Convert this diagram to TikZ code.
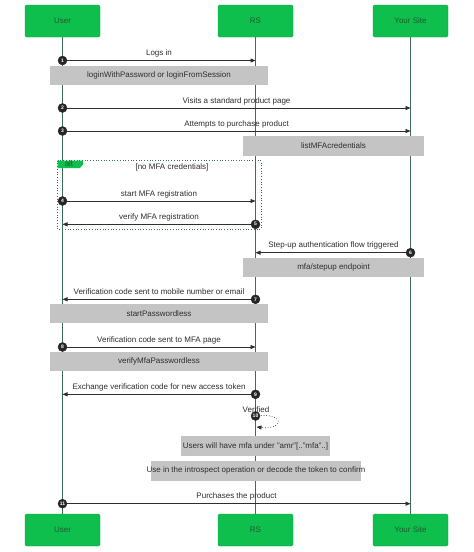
\documentclass[tikz,border=0pt]{standalone}
\usepackage{fontspec}
\setmainfont{Liberation Sans}
\usetikzlibrary{arrows.meta}
\definecolor{actorfill}{HTML}{0EBF4E}
\definecolor{actordraw}{HTML}{0BA343}
\definecolor{actortext}{HTML}{1E5C2E}
\definecolor{lifeline}{HTML}{3C6E57}
\definecolor{notegrey}{HTML}{C4C4C4}
\definecolor{txt}{HTML}{2E2E2E}
\tikzset{
  actor/.style={draw=actordraw, fill=actorfill, rounded corners=1.5pt, minimum width=75pt, minimum height=32pt, inner sep=0pt, text=actortext, font=\fontsize{8}{9}\selectfont},
  life/.style={draw=lifeline, line width=0.9pt},
  notebox/.style={fill=notegrey, inner sep=0pt, text=txt, font=\fontsize{8}{9}\selectfont},
  notetext/.style={inner sep=0pt, text=txt, font=\fontsize{8}{9}\selectfont},
  msg/.style={draw=txt, line width=0.7pt, -{Triangle[length=5pt,width=4pt]}},
  lbl/.style={inner sep=0pt, anchor=base, text=txt, font=\fontsize{8}{9}\selectfont},
  num/.style={circle, fill=black!85, draw=black!85, minimum size=9pt, inner sep=0pt, text=white, font=\fontsize{5}{5}\selectfont\bfseries},
  altbox/.style={draw=lifeline, dotted, line width=0.7pt},
}
\begin{document}
\begin{tikzpicture}[x=1pt,y=-1pt]
\useasboundingbox[fill=white] (0,0) rectangle (474,552);
% actors
\node[actor] (uTop) at (62.5,21) {User};
\node[actor] (rTop) at (255.5,21) {RS};
\node[actor] (sTop) at (410.5,21) {Your Site};
\node[actor] (uBot) at (62.5,530) {User};
\node[actor] (rBot) at (255.5,530) {RS};
\node[actor] (sBot) at (410.5,530) {Your Site};
% lifelines
\draw[life] (uTop.south) -- (uBot.north);
\draw[life] (rTop.south) -- (rBot.north);
\draw[life] (sTop.south) -- (sBot.north);
% alt frame
\draw[altbox] (57.5,160.7) rectangle (261,229);
\fill[actorfill] (57.5,160.7) -- (83,160.7) -- (83,164.5) -- (80,168) -- (57.5,168) -- cycle;
\node[lbl, text=actortext] (altlbl) at (69,166.5) {alt};
\node[lbl] (altcond) at (172,169.5) {[no MFA credentials]};
% notes
\node[notebox, minimum width=218pt, minimum height=19pt] (n1) at (159,75.5) {loginWithPassword or loginFromSession};
\node[notebox, minimum width=181pt, minimum height=19.7pt] (n2) at (333.5,145.8) {listMFAcredentials};
\node[notebox, minimum width=181pt, minimum height=19pt] (n3) at (333.5,267.5) {mfa/stepup endpoint};
\node[notebox, minimum width=218pt, minimum height=19pt] (n4) at (159,313.5) {startPasswordless};
\node[notebox, minimum width=218pt, minimum height=19pt] (n5) at (159,361.5) {verifyMfaPasswordless};
\node[notebox, minimum width=149pt, minimum height=20pt] (n6) at (255.5,446) {};
\node[notetext] (n6t) at (n6) {Users will have mfa under "amr"[.."mfa"..]};
\node[notebox, minimum width=210pt, minimum height=20pt] (n7) at (256,470.7) {};
\node[notetext] (n7t) at (n7) {Use in the introspect operation or decode the token to confirm};
% message end points
\coordinate (u1) at (62.5,60.5);  \coordinate (r1) at (255.5,60.5);
\coordinate (u2) at (62.5,108);   \coordinate (s2) at (410.5,108);
\coordinate (u3) at (62.5,131);   \coordinate (s3) at (410.5,131);
\coordinate (u4) at (62.5,201);   \coordinate (r4) at (255.5,201);
\coordinate (r5) at (255.5,224.3);\coordinate (u5) at (62.5,224.3);
\coordinate (s6) at (410.5,252.7);\coordinate (r6) at (255.5,252.7);
\coordinate (r7) at (255.5,299.3);\coordinate (u7) at (62.5,299.3);
\coordinate (u8) at (62.5,347);   \coordinate (r8) at (255.5,347);
\coordinate (r9) at (255.5,394.3);\coordinate (u9) at (62.5,394.3);
\coordinate (r10) at (255.5,416); \coordinate (r10b) at (256.5,427);
\coordinate (u11) at (62.5,503.7);\coordinate (s11) at (410.5,503.7);
% messages
\draw[msg] (u1) -- (r1);
\node[lbl] (l1) at (159,55.5) {Logs in};
\draw[msg] (u2) -- (s2);
\node[lbl] (l2) at (236.5,103) {Visits a standard product page};
\draw[msg] (u3) -- (s3);
\node[lbl] (l3) at (236.5,126) {Attempts to purchase product};
\draw[msg] (u4) -- (r4);
\node[lbl] (l4) at (159,196) {start MFA registration};
\draw[msg] (r5) -- (u5);
\node[lbl] (l5) at (159,219.3) {verify MFA registration};
\draw[msg] (s6) -- (r6);
\node[lbl] (l6) at (333.5,247.7) {Step-up authentication flow triggered};
\draw[msg] (r7) -- (u7);
\node[lbl] (l7) at (159,294.3) {Verification code sent to mobile number or email};
\draw[msg] (u8) -- (r8);
\node[lbl] (l8) at (159,342) {Verification code sent to MFA page};
\draw[msg] (r9) -- (u9);
\node[lbl] (l9) at (159,389.3) {Exchange verification code for new access token};
\draw[msg, dotted] (r10) .. controls (285,412) and (285,430) .. (r10b);
\node[lbl] (l10) at (256,412.5) {Verified};
\draw[msg] (u11) -- (s11);
\node[lbl] (l11) at (236.5,498.7) {Purchases the product};
% sequence numbers
\node[num] (c1) at (u1) {1};
\node[num] (c2) at (u2) {2};
\node[num] (c3) at (u3) {3};
\node[num] (c4) at (u4) {4};
\node[num] (c5) at (r5) {5};
\node[num] (c6) at (s6) {6};
\node[num] (c7) at (r7) {7};
\node[num] (c8) at (u8) {8};
\node[num] (c9) at (r9) {9};
\node[num] (c10) at (r10) {10};
\node[num] (c11) at (u11) {11};
\end{tikzpicture}
\end{document}
